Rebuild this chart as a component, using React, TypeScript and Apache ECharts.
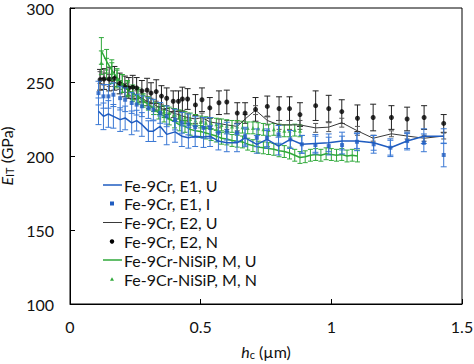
import React, { useEffect, useRef } from "react";
import * as echarts from "echarts";

// Fe-9Cr, E1 (blue)
const hE1 = [0.109, 0.128, 0.147, 0.166, 0.192, 0.211, 0.236, 0.255, 0.275, 0.3, 0.319, 0.345, 0.37, 0.402, 0.428, 0.453, 0.479, 0.511, 0.536, 0.568, 0.6, 0.639, 0.67, 0.715, 0.754, 0.798, 0.843, 0.887, 0.939, 0.99, 1.041, 1.098, 1.162, 1.226, 1.29, 1.354, 1.43];
const eE1U = [230.2, 226.8, 228.4, 226.8, 224.6, 225.7, 222.4, 223.9, 221.3, 216.8, 216.8, 220.1, 214.6, 216.3, 213.4, 212.3, 213.4, 212.8, 213.4, 210.1, 208.9, 208.9, 212.3, 207.9, 211.2, 206.7, 211.2, 207.9, 208.5, 208.9, 210.1, 210.1, 208.9, 205.6, 210.1, 213.4, 213.4];
const errE1U = [9, 9, 9, 8, 8, 8, 8, 7, 8, 7, 7, 7, 7, 7, 7, 7, 7, 7, 7, 6, 6, 6, 6, 6, 6, 6, 6, 6, 6, 6, 6, 5, 5, 5, 5, 5, 5];
const eE1I = [242.5, 240.3, 240.3, 241.4, 239.1, 238.0, 235.8, 234.7, 233.6, 232.4, 231.3, 229.1, 226.8, 224.6, 222.4, 221.3, 219.5, 219.0, 219.0, 215.7, 216.8, 215.7, 213.4, 212.3, 212.3, 214.6, 211.2, 207.9, 207.4, 206.7, 207.4, 209.6, 207.9, 205.6, 210.1, 208.9, 200.7];
const errE1I = [8, 8, 8, 8, 8, 8, 7, 7, 7, 7, 7, 7, 7, 7, 7, 7, 7, 7, 7, 6, 6, 6, 6, 6, 6, 6, 6, 6, 6, 6, 6, 6, 6, 6, 6, 6, 8];

// Fe-9Cr, E2 (black)
const hE2 = [0.115, 0.13, 0.15, 0.17, 0.19, 0.21, 0.225, 0.24, 0.255, 0.275, 0.295, 0.31, 0.33, 0.35, 0.37, 0.395, 0.415, 0.43, 0.45, 0.48, 0.505, 0.535, 0.57, 0.6, 0.64, 0.67, 0.71, 0.755, 0.8, 0.84, 0.88, 0.94, 0.99, 1.04, 1.1, 1.16, 1.23, 1.29, 1.355, 1.43];
const eE2U = [253, 252, 251, 250, 248, 246, 244, 243, 241, 239, 237, 236, 234, 232, 231, 229, 228, 227, 226, 225, 226, 223, 222, 221, 220, 225, 231, 224, 221, 221, 221, 219, 219.5, 222.5, 217, 212, 215, 213.5, 212, 213.5];
const errE2U = [4, 4, 4, 3, 3, 3, 3, 3, 3, 3, 3, 3, 3, 3, 3, 3, 3, 3, 3, 3, 3, 3, 3, 3, 3, 3, 3, 3, 3, 3, 3, 3, 3, 3, 3, 2, 2, 2, 2, 2];
const eE2N = [251.5, 252, 252, 252.5, 249, 247, 246, 246.5, 246, 244, 244.5, 242.5, 243.5, 240.5, 239, 237, 237, 238.5, 238.5, 234.5, 238, 232.5, 236, 236.5, 229, 229, 231.5, 233.5, 232, 232, 228, 234, 232, 230, 225.5, 226, 226, 225, 226, 222];
const errE2N = [7, 7, 8, 8, 7, 7, 7, 8, 7, 7, 8, 7, 8, 7, 7, 7, 7, 8, 7, 7, 8, 7, 8, 8, 7, 7, 8, 7, 8, 8, 8, 10, 9, 8, 9, 9, 8, 8, 8, 6];

// Fe-9Cr-NiSiP, M (green)
const hM = [0.12, 0.14, 0.16, 0.18, 0.2, 0.22, 0.24, 0.26, 0.28, 0.3, 0.32, 0.34, 0.36, 0.38, 0.4, 0.42, 0.44, 0.46, 0.48, 0.5, 0.52, 0.54, 0.56, 0.58, 0.6, 0.62, 0.64, 0.66, 0.68, 0.7, 0.72, 0.74, 0.76, 0.78, 0.8, 0.82, 0.84, 0.86, 0.88, 0.9, 0.92, 0.94, 0.96, 0.98, 1.0, 1.02, 1.04, 1.06, 1.08, 1.1];
const eMU = [271, 264, 258, 253, 249, 245, 242, 240, 237, 235, 232, 229, 227, 225, 223, 221, 220, 218, 217, 216.5, 215.5, 214.5, 213.5, 212, 211.5, 210.5, 210, 209.5, 208, 207, 206, 205.5, 205, 204.5, 203.5, 203, 202, 200.5, 199, 199.5, 200.5, 201, 200.5, 201.5, 201, 200.5, 201, 200, 200.5, 200];
const errMU = [9, 8, 7, 6, 6, 5, 5, 5, 4, 4, 4, 4, 4, 4, 4, 4, 4, 4, 4, 4, 4, 4, 4, 4, 4, 4, 4, 4, 4, 4, 4, 4, 4, 4, 4, 4, 4, 4, 4, 4, 4, 4, 4, 4, 4, 4, 4, 4, 4, 4];
const hMN = hM.slice(0, 39);
const eMN = [263, 259, 256, 252, 249, 246, 243, 241, 238, 236, 234, 232, 230, 229, 228, 227, 226, 225, 224, 223, 222.5, 222, 221.5, 221, 220.5, 220, 220, 219.5, 219, 219, 218.5, 218, 217.5, 218, 217.5, 217, 217, 217.5, 217];
const errMN = [8, 7, 7, 6, 6, 5, 5, 5, 4, 4, 4, 4, 4, 4, 4, 4, 4, 4, 4, 4, 4, 4, 4, 4, 4, 4, 4, 4, 4, 4, 4, 4, 4, 4, 4, 4, 4, 4, 4];

const yTicks = [100, 150, 200, 250, 300];
const xTicks = [0, 0.5, 1, 1.5];

const legendLabels = [
  "Fe-9Cr, E1, U",
  "Fe-9Cr, E1, I",
  "Fe-9Cr, E2, U",
  "Fe-9Cr, E2, N",
  "Fe-9Cr-NiSiP, M, U",
  "Fe-9Cr-NiSiP, M, N",
];

const BLUE_LINE = "#1f5cc0";
const BLUE_BAR = "#3a78d4";
const BLACK = "#000000";
const GRAY = "#3a3a3a";
const GREEN = "#2fa83a";
const FONT = "Lato";

const pts = (xs: number[], ys: number[]) => xs.map((x, i) => [x, ys[i]]);
const errPts = (xs: number[], ys: number[], es: number[]) => xs.map((x, i) => [x, ys[i], es[i]]);

function errSeries(data: number[][], color: string, cap: number, z: number) {
  return {
    type: "custom",
    data,
    z,
    clip: true,
    silent: true,
    renderItem: (_p: any, api: any) => {
      const x = api.value(0);
      const y = api.value(1);
      const e = api.value(2);
      const t = api.coord([x, y + e]);
      const b = api.coord([x, y - e]);
      const st = { stroke: color, lineWidth: 1 };
      return {
        type: "group",
        children: [
          { type: "line", shape: { x1: t[0], y1: t[1], x2: b[0], y2: b[1] }, style: st },
          { type: "line", shape: { x1: t[0] - cap, y1: t[1], x2: t[0] + cap, y2: t[1] }, style: st },
          { type: "line", shape: { x1: b[0] - cap, y1: b[1], x2: b[0] + cap, y2: b[1] }, style: st },
        ],
      };
    },
  };
}

const titleRich = {
  i: { fontStyle: "italic", fontSize: 16, fontFamily: FONT, color: "#111", lineHeight: 18 },
  s: { fontSize: 11, fontFamily: FONT, color: "#111", lineHeight: 18, verticalAlign: "bottom", padding: [5, 0, 0, 0] },
  n: { fontSize: 16, fontFamily: FONT, color: "#111", lineHeight: 18 },
};

export default function App() {
  const ref = useRef<HTMLDivElement>(null);
  useEffect(() => {
    if (!ref.current) return;
    const chart = echarts.init(ref.current, null, { renderer: "svg" });
    const rowY = [185, 203.5, 222.5, 241.5, 260, 279];
    const lx1 = 103;
    const lx2 = 122;
    const mx = 112;
    const legendGraphics: any[] = [];
    legendLabels.forEach((t, i) => {
      legendGraphics.push({
        type: "text",
        x: 124,
        y: rowY[i],
        style: { text: t, fontSize: 16, fontFamily: FONT, fill: "#111", verticalAlign: "middle", align: "left" },
      });
    });
    legendGraphics.push({ type: "line", shape: { x1: lx1, y1: rowY[0], x2: lx2, y2: rowY[0] }, style: { stroke: BLUE_LINE, lineWidth: 1.5 } });
    legendGraphics.push({ type: "rect", shape: { x: mx - 2, y: rowY[1] - 2, width: 4, height: 4 }, style: { fill: BLUE_LINE } });
    legendGraphics.push({ type: "line", shape: { x1: lx1, y1: rowY[2], x2: lx2, y2: rowY[2] }, style: { stroke: GRAY, lineWidth: 1 } });
    legendGraphics.push({ type: "circle", shape: { cx: mx, cy: rowY[3], r: 2.2 }, style: { fill: BLACK } });
    legendGraphics.push({ type: "line", shape: { x1: lx1, y1: rowY[4], x2: lx2, y2: rowY[4] }, style: { stroke: GREEN, lineWidth: 1.5 } });
    legendGraphics.push({ type: "polygon", shape: { points: [[mx - 2, rowY[5] + 1.8], [mx + 2, rowY[5] + 1.8], [mx, rowY[5] - 1.8]] }, style: { fill: GREEN } });

    chart.setOption({
      animation: false,
      backgroundColor: "#ffffff",
      grid: { left: 70, right: 12, top: 8, bottom: 60, show: true, borderColor: "#000", borderWidth: 1, backgroundColor: "transparent", containLabel: false, outerBoundsMode: "none" },
      xAxis: {
        type: "value",
        min: xTicks[0],
        max: xTicks[xTicks.length - 1],
        interval: 0.5,
        axisLine: { show: true, lineStyle: { color: "#000" } },
        axisTick: { show: true, inside: true, length: 5, lineStyle: { color: "#000" } },
        splitLine: { show: false },
        axisLabel: { color: "#111", fontSize: 16, fontFamily: FONT, margin: 14 },
        name: "{i|h}{s|c}{n| (µm)}",
        nameLocation: "middle",
        nameGap: 38,
        nameTextStyle: { color: "#111", fontSize: 16, fontFamily: FONT, rich: titleRich },
      },
      yAxis: {
        type: "value",
        min: yTicks[0],
        max: yTicks[yTicks.length - 1],
        interval: 50,
        axisLine: { show: true, lineStyle: { color: "#000" } },
        axisTick: { show: true, inside: true, length: 5, lineStyle: { color: "#000" } },
        splitLine: { show: false },
        axisLabel: { color: "#111", fontSize: 16, fontFamily: FONT, margin: 16 },
        name: "{i|E}{s|IT}{n| (GPa)}",
        nameLocation: "middle",
        nameGap: 41,
        nameRotate: 90,
        nameTextStyle: { color: "#111", fontSize: 16, fontFamily: FONT, rich: titleRich },
      },
      series: [
        errSeries(errPts(hE2, eE2N, errE2N), "#222", 3, 2),
        { type: "scatter", name: legendLabels[3], data: pts(hE2, eE2N), symbol: "circle", symbolSize: 5, itemStyle: { color: BLACK }, z: 3 },
        errSeries(errPts(hE2, eE2U, errE2U), "#555", 2.5, 2),
        { type: "line", name: legendLabels[2], data: pts(hE2, eE2U), showSymbol: false, symbol: "none", lineStyle: { color: GRAY, width: 1 }, z: 3 },
        errSeries(errPts(hM, eMU, errMU), GREEN, 2.5, 2),
        { type: "line", name: legendLabels[4], data: pts(hM, eMU), showSymbol: false, symbol: "none", lineStyle: { color: GREEN, width: 1.5 }, z: 3 },
        errSeries(errPts(hMN, eMN, errMN), GREEN, 2.5, 2),
        { type: "scatter", name: legendLabels[5], data: pts(hMN, eMN), symbol: "triangle", symbolSize: 4, itemStyle: { color: GREEN }, z: 3 },
        errSeries(errPts(hE1, eE1U, errE1U), BLUE_BAR, 3, 4),
        { type: "line", name: legendLabels[0], data: pts(hE1, eE1U), showSymbol: false, symbol: "none", lineStyle: { color: BLUE_LINE, width: 1.5 }, z: 5 },
        errSeries(errPts(hE1, eE1I, errE1I), BLUE_BAR, 3, 4),
        { type: "scatter", name: legendLabels[1], data: pts(hE1, eE1I), symbol: "rect", symbolSize: 4, itemStyle: { color: BLUE_LINE }, z: 5 },
      ],
      graphic: legendGraphics,
    });
    return () => chart.dispose();
  }, []);
  return <div ref={ref} style={{ width: 474, height: 364, position: "absolute", left: 0, top: 0 }} />;
}
